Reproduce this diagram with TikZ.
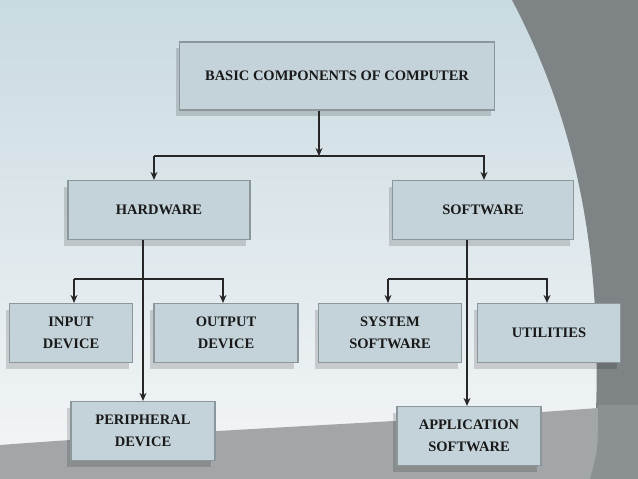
\documentclass[tikz,border=0pt]{standalone}
\usepackage{fontspec}
\setmainfont{Liberation Serif}
\usetikzlibrary{shadows,arrows.meta}
\definecolor{bgtop}{HTML}{C9DAE1}
\definecolor{bgbot}{HTML}{F4F6F7}
\definecolor{dgrey}{HTML}{7E8486}
\definecolor{mgrey}{HTML}{A3A6A8}
\definecolor{boxfill}{HTML}{C3D3D9}
\definecolor{boxline}{HTML}{8C979C}
\tikzset{
  box/.style={draw=boxline, line width=1.2pt, fill=boxfill, align=center, font=\fontsize{14.5}{22}\selectfont\bfseries, text=black!90, inner sep=0pt,
    drop shadow={shadow xshift=-4pt, shadow yshift=-6pt, fill=black, opacity=0.15}},
  conn/.style={line width=1.4pt, draw=black!85},
  arr/.style={conn, -{Stealth[length=8pt,width=7pt]}}
}
\begin{document}
\begin{tikzpicture}[x=1pt,y=-1pt]
\useasboundingbox (0,0) rectangle (638,479);
\shade[top color=bgtop, bottom color=bgbot] (0,0) rectangle (638,479);
\fill[dgrey] (512,0) .. controls (575,120) and (610,260) .. (592,479) -- (638,479) -- (638,0) -- cycle;
\fill[mgrey] (0,445) .. controls (200,430) and (450,420) .. (638,405) -- (638,479) -- (0,479) -- cycle;
\fill[dgrey!90] (598,405) -- (638,405) -- (638,479) -- (590,479) .. controls (598,450) .. (598,405);
\node[box, minimum width=315pt, minimum height=68pt] (top) at (337,76) {BASIC COMPONENTS OF COMPUTER};
\node[box, minimum width=182pt, minimum height=59pt] (hw) at (159,210) {HARDWARE};
\node[box, minimum width=181pt, minimum height=59pt] (sw) at (483,210) {SOFTWARE};
\node[box, minimum width=123pt, minimum height=59pt] (in) at (71,333) {INPUT\\DEVICE};
\node[box, minimum width=144pt, minimum height=59pt] (out) at (226,333) {OUTPUT\\DEVICE};
\node[box, minimum width=143pt, minimum height=59pt] (sys) at (390,333) {SYSTEM\\SOFTWARE};
\node[box, minimum width=143pt, minimum height=59pt] (util) at (549,333) {UTILITIES};
\node[box, minimum width=144pt, minimum height=59pt] (per) at (143,431) {PERIPHERAL\\DEVICE};
\node[box, minimum width=144pt, minimum height=59pt] (app) at (469,436) {APPLICATION\\SOFTWARE};
\coordinate (j1) at (319,156);
\coordinate (cl) at (154,156);
\coordinate (cr) at (484,156);
\coordinate (hx) at (143,0);
\coordinate (sx) at (467,0);
\coordinate (hl) at (74,279);
\coordinate (hr) at (223,279);
\coordinate (sl) at (388,279);
\coordinate (sr) at (547,279);
\draw[arr] (top.south -| j1) -- (j1);
\draw[arr] (cl) -- (cr) -- (sw.north -| cr);
\draw[arr] (cl) -- (hw.north -| cl);
\draw[arr] (hw.south -| hx) -- (per.north -| hx);
\draw[arr] (hl) -- (hr) -- (out.north -| hr);
\draw[arr] (hl) -- (in.north -| hl);
\draw[arr] (sw.south -| sx) -- (app.north -| sx);
\draw[arr] (sl) -- (sr) -- (util.north -| sr);
\draw[arr] (sl) -- (sys.north -| sl);
\end{tikzpicture}
\end{document}
